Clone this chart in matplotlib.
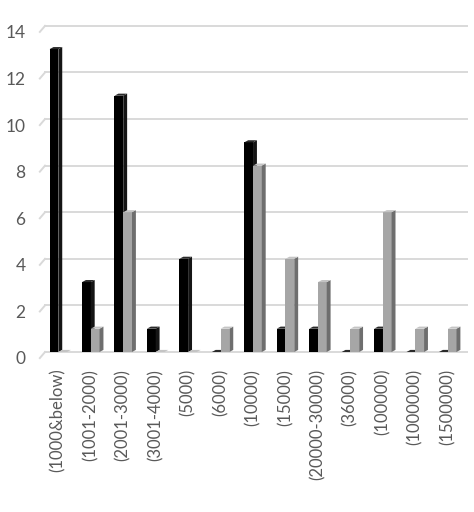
import numpy as np
import matplotlib
matplotlib.use('Agg')
import matplotlib.pyplot as plt
from matplotlib.patches import Polygon
from matplotlib.transforms import ScaledTranslation

# chart data
categories = ['(1000&below)', '(1001-2000)', '(2001-3000)', '(3001-4000)', '(5000)',
              '(6000)', '(10000)', '(15000)', '(20000-30000)', '(36000)',
              '(100000)', '(1000000)', '(1500000)']
series_black = [13, 3, 11, 1, 4, 0, 9, 1, 1, 0, 1, 0, 0]
series_gray = [0, 1, 6, 0, 0, 1, 8, 4, 3, 1, 6, 1, 1]
y_ticks = [0, 2, 4, 6, 8, 10, 12, 14]

plt.rcParams['font.family'] = ['Lato', 'DejaVu Sans']

fig = plt.figure(figsize=(4.74, 5.12), dpi=100)
ax = fig.add_axes([0.095, 0.3125, 0.89, 0.637])

n = len(categories)
ax.set_xlim(-0.5, n - 0.5)
ax.set_ylim(0, 14)

bar_w = 0.27
depth_x = 0.12
depth_y = 0.09


def draw_bar(x0, h, front, side, top, z):
    ax.add_patch(Polygon([(x0, 0), (x0 + bar_w, 0), (x0 + bar_w, h), (x0, h)],
                         closed=True, facecolor=front, edgecolor='none',
                         zorder=z, clip_on=False))
    ax.add_patch(Polygon([(x0 + bar_w, 0), (x0 + bar_w + depth_x, depth_y),
                          (x0 + bar_w + depth_x, h + depth_y), (x0 + bar_w, h)],
                         closed=True, facecolor=side, edgecolor='none',
                         zorder=z, clip_on=False))
    ax.add_patch(Polygon([(x0, h), (x0 + bar_w, h),
                          (x0 + bar_w + depth_x, h + depth_y), (x0 + depth_x, h + depth_y)],
                         closed=True, facecolor=top, edgecolor='none',
                         zorder=z, clip_on=False))


for i in range(n):
    draw_bar(i - 0.36, series_black[i], '#000000', '#151515', '#2a2a2a', 3 + i * 0.01)
    draw_bar(i - 0.09, series_gray[i], '#a6a6a6', '#6e6e6e', '#c4c4c4', 4 + i * 0.01)

# gridlines with the little slanted wall edge on the left
for t in y_ticks:
    ax.plot([-0.5, n - 0.5], [t, t], color='#d9d9d9', lw=1.4, zorder=1, clip_on=False)
    ax.plot([-0.66, -0.5], [t - 0.26, t], color='#d9d9d9', lw=1.4, zorder=1, clip_on=False)

for s in ax.spines.values():
    s.set_visible(False)

ax.set_yticks(y_ticks)
ax.set_yticklabels([str(t) for t in y_ticks], fontsize=12.5, color='#595959')
ax.tick_params(axis='y', length=0, pad=14)
offset = ScaledTranslation(0, -6 / 100, fig.dpi_scale_trans)
for lab in ax.get_yticklabels():
    lab.set_transform(lab.get_transform() + offset)

ax.set_xticks(np.arange(n) - 0.1)
ax.set_xticklabels(categories, rotation=90, fontsize=12, color='#595959')
ax.tick_params(axis='x', length=0, pad=12)

fig.savefig('out.png', dpi=100, facecolor='white')
